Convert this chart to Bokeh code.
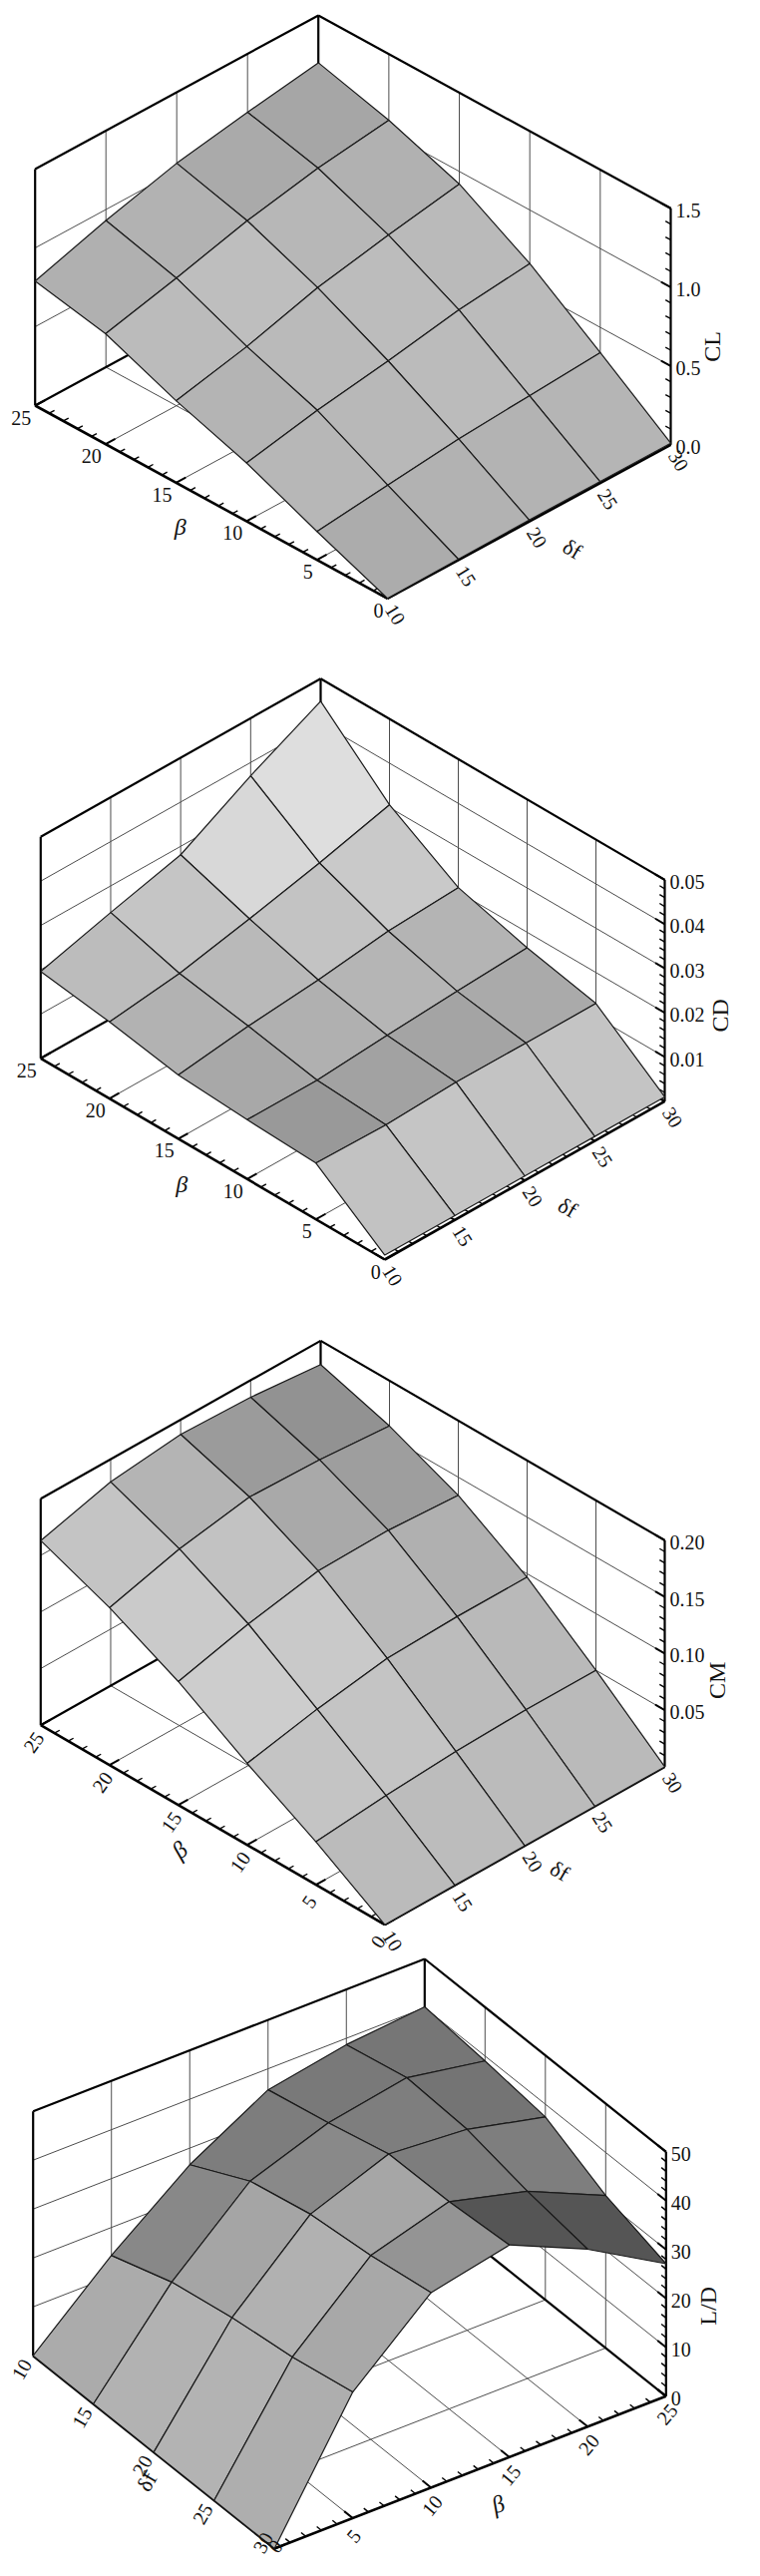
import numpy as np
from bokeh.plotting import figure
from bokeh.models import Range1d
from bokeh.embed import file_html
from bokeh.resources import INLINE
from bokeh.core.properties import value

# ---------------- data ----------------
beta = [0, 5, 10, 15, 20, 25]
delta_f = [10, 15, 20, 25, 30]

# rows: beta 0..25, columns: delta_f 10..30
CL = [
    [0.00, 0.005, 0.01, 0.01, 0.01],
    [0.18, 0.23, 0.28, 0.31, 0.34],
    [0.37, 0.46, 0.53, 0.61, 0.66],
    [0.52, 0.62, 0.75, 0.84, 0.92],
    [0.70, 0.81, 0.93, 1.02, 1.08],
    [0.79, 0.93, 1.05, 1.13, 1.20],
]
CD = [
    [0.001, 0.001, 0.001, 0.001, 0.001],
    [0.0127, 0.0124, 0.0131, 0.0130, 0.0130],
    [0.0134, 0.0134, 0.0146, 0.0156, 0.0165],
    [0.0144, 0.0165, 0.0180, 0.0201, 0.0210],
    [0.0173, 0.0193, 0.0227, 0.0264, 0.0306],
    [0.0196, 0.0240, 0.0281, 0.0370, 0.0449],
]
CM = [
    [0.000, 0.000, 0.000, 0.000, 0.000],
    [0.038, 0.044, 0.048, 0.050, 0.050],
    [0.072, 0.085, 0.095, 0.097, 0.097],
    [0.109, 0.125, 0.137, 0.138, 0.134],
    [0.139, 0.156, 0.167, 0.165, 0.160],
    [0.163, 0.180, 0.187, 0.185, 0.179],
]
LD = [
    [0.0, 0.0, 0.0, 0.0, 0.0],
    [14.3, 18.7, 21.3, 23.1, 25.8],
    [26.6, 33.1, 36.2, 37.6, 39.9],
    [35.7, 38.8, 42.3, 42.4, 43.4],
    [38.7, 41.8, 41.1, 38.3, 36.3],
    [40.2, 39.0, 37.4, 31.2, 27.1],
]

cl_ticks = [0.0, 0.5, 1.0, 1.5]
cl_tick_labels = ["0.0", "0.5", "1.0", "1.5"]
cd_ticks = [0.01, 0.02, 0.03, 0.04, 0.05]
cd_tick_labels = ["0.01", "0.02", "0.03", "0.04", "0.05"]
cm_ticks = [0.05, 0.10, 0.15, 0.20]
cm_tick_labels = ["0.05", "0.10", "0.15", "0.20"]
ld_ticks = [0, 10, 20, 30, 40, 50]
ld_tick_labels = ["0", "10", "20", "30", "40", "50"]
beta_ticks = [0, 5, 10, 15, 20, 25]
beta_tick_labels = ["0", "5", "10", "15", "20", "25"]
delta_ticks = [10, 15, 20, 25, 30]
delta_tick_labels = ["10", "15", "20", "25", "30"]

# ---------------- layout / style ----------------
FONT = "Liberation Serif"
charts = [
    dict(z=CL, zmax=1.5, zt=cl_ticks, zl=cl_tick_labels, minor=0.1, title="CL",
         front=(396.0, 607.3), left=(42.7, 414.0), right=(680.0, 453.3), height=237.0,
         swap=False, shade=(-14.5, 250.0), tdx=41, tdy=20,
         blab=("right", (-4, 12), 0.0), dlab=("center", (8, 16), -58.0),
         btit=(12.5, (-31, 25), 0.0), dtit=(21.5, (22, 39), -30.0)),
    dict(z=CD, zmax=0.05, zt=cd_ticks, zl=cd_tick_labels, minor=0.002, title="CD",
         front=(393.3, 1270.0), left=(48.3, 1068.3), right=(674.0, 1111.4), height=222.0,
         swap=False, shade=(27.8, 210.0), tdx=55, tdy=25,
         blab=("right", (-4, 12), 0.0), dlab=("center", (8, 16), -58.0),
         btit=(12.5, (-31, 25), 0.0), dtit=(21.5, (22, 39), -30.0)),
    dict(z=CM, zmax=0.20, zt=cm_ticks, zl=cm_tick_labels, minor=0.01, title="CM",
         front=(393.3, 1936.7), left=(48.3, 1736.7), right=(674.0, 1778.4), height=227.0,
         swap=False, shade=(-41.0, 283.0), tdx=52, tdy=27,
         blab=("center", (-7, 17), 55.0), dlab=("center", (8, 16), -58.0),
         btit=(12.5, (-33, 25), 40.0), dtit=(21.5, (14, 37), -30.0)),
    dict(z=LD, zmax=50.0, zt=ld_ticks, zl=ld_tick_labels, minor=2.0, title="L/D",
         front=(282.7, 2562.0), left=(40.7, 2368.7), right=(675.3, 2409.3), height=245.0,
         swap=True, shade=(-42.0, 320.0), tdx=42, tdy=32,
         blab=("center", (1, 18), 50.0), dlab=("center", (-11.5, 13.5), 60.0),
         btit=(12.5, (28, 32), 20.0), dtit=(20.5, (-13, 25), 60.0)),
]

W, HP = 746, 2566
X0, Y0 = 8, 8
p = figure(width=W, height=HP, x_range=Range1d(X0, X0 + W), y_range=Range1d(Y0 + HP, Y0),
           output_backend="svg", toolbar_location=None,
           x_axis_location=None, y_axis_location=None, min_border=0)
p.outline_line_color = None
p.grid.visible = False
p.background_fill_color = "white"


def text(xs, ys, labels, size, align="center", baseline="middle", angle=0.0, style="normal"):
    px = float(size.replace("px", ""))
    th = np.deg2rad(angle)
    xs = list(map(float, xs)); ys = list(map(float, ys))
    # keep every label fully inside the page (conservative rotated text box)
    for k, lab in enumerate(labels):
        w = 0.56 * px * len(lab); h = 1.25 * px
        ext_y = 0.5 * (w * abs(np.sin(th)) + h * abs(np.cos(th))) + 2
        ys[k] = min(max(ys[k], Y0 + ext_y), Y0 + HP - ext_y)
    p.text(x=xs, y=ys, text=list(labels), angle=float(th),
           text_font=value(FONT), text_font_size=value(size), text_align=align,
           text_baseline=baseline, text_color="#111111", text_font_style=style)


for c in charts:
    Z = np.array(c["z"], float)
    F = np.array(c["front"]); L = np.array(c["left"]); R = np.array(c["right"])
    b0, b1 = beta[0], beta[-1]
    d0, d1 = delta_f[0], delta_f[-1]
    if c["swap"]:
        O = L; ed = (F - L) / (d1 - d0); eb = (R - F) / (b1 - b0)
        fd, bd = d1, d0
    else:
        O = F; eb = (L - F) / (b1 - b0); ed = (R - F) / (d1 - d0)
        fd, bd = d0, d1
    H = c["height"]; zmax = c["zmax"]

    def P(b, d, z, O=O, eb=eb, ed=ed, H=H, zmax=zmax):
        b = np.asarray(b, float); d = np.asarray(d, float); z = np.asarray(z, float)
        x = O[0] + (b - b0) * eb[0] + (d - d0) * ed[0]
        y = O[1] + (b - b0) * eb[1] + (d - d0) * ed[1] - z / zmax * H
        return x, y

    def seg(a, e):
        x, y = P([a[0], e[0]], [a[1], e[1]], [a[2], e[2]])
        return list(x), list(y)

    # ---- view basis for headlight shading ----
    bx, by = eb; dx, dy = ed
    s2 = -(by * dy) / (bx * dx)
    se = np.sqrt(s2); ce = np.sqrt(1 - s2)
    t = abs(se * dx / dy)
    ca = np.sign(bx) / np.sqrt(1 + t * t); sa = np.sign(dx) * t / np.sqrt(1 + t * t)
    scale = np.array([bx / ca, dx / sa, H / ce / zmax])
    rx = np.array([ca, sa, 0.0]); ry = np.array([-sa * se, ca * se, -ce])
    view = np.cross(rx, ry)
    if view[2] < 0:
        view = -view

    zin = [v for v in c["zt"] if 1e-12 < v < zmax - 1e-12]

    # ---- thin grid lines on walls and floor ----
    gx, gy = [], []
    for b in beta_ticks[1:-1]:
        for a, e in [((b, d0, 0), (b, d1, 0)), ((b, bd, 0), (b, bd, zmax))]:
            x, y = seg(a, e); gx.append(x); gy.append(y)
    for d in delta_ticks[1:-1]:
        for a, e in [((b0, d, 0), (b1, d, 0)), ((b1, d, 0), (b1, d, zmax))]:
            x, y = seg(a, e); gx.append(x); gy.append(y)
    for zz in zin:
        for a, e in [((b1, d0, zz), (b1, d1, zz)), ((b0, bd, zz), (b1, bd, zz))]:
            x, y = seg(a, e); gx.append(x); gy.append(y)
    p.multi_line(gx, gy, line_color="#4d4d4d", line_width=1.0)

    # ---- bold box edges (back walls and floor) ----
    ex, ey = [], []
    edges = [((b1, d0, 0), (b1, d1, 0)), ((b0, bd, 0), (b1, bd, 0)),
             ((b1, fd, 0), (b1, fd, zmax)), ((b0, bd, 0), (b0, bd, zmax)),
             ((b1, bd, 0), (b1, bd, zmax)),
             ((b1, d0, zmax), (b1, d1, zmax)), ((b0, bd, zmax), (b1, bd, zmax))]
    for a, e in edges:
        x, y = seg(a, e); ex.append(x); ey.append(y)
    p.multi_line(ex, ey, line_color="black", line_width=2.2)
    ax_x, ax_y = [], []
    for a, e in [((b0, fd, 0), (b1, fd, 0)), ((b0, d0, 0), (b0, d1, 0))]:
        x, y = seg(a, e); ax_x.append(x); ax_y.append(y)
    p.multi_line(ax_x, ax_y, line_color="black", line_width=2.6)

    # ---- ticks ----
    def unit(v):
        v = np.asarray(v, float); return v / np.hypot(*v)
    tdir_b = unit(ed * np.sign(bd - fd))
    tdir_d = unit(eb)
    cands = [(b0, bd), (b1, fd)]
    zc = max(cands, key=lambda q: float(P(q[0], q[1], 0)[0]))
    back = np.array(P(b1, bd, 0), float); zc0 = np.array(P(zc[0], zc[1], 0), float)
    tdir_z = unit(back - zc0)
    mjx, mjy, mnx, mny = [], [], [], []

    def tick(pt, dvec, major):
        ln = 11.0 if major else 6.0
        xs_ = [pt[0], pt[0] + dvec[0] * ln]; ys_ = [pt[1], pt[1] + dvec[1] * ln]
        if major:
            mjx.append(xs_); mjy.append(ys_)
        else:
            mnx.append(xs_); mny.append(ys_)

    for b in range(b0, b1 + 1):
        tick(P(b, fd, 0), tdir_b, b in beta_ticks)
    for d in range(d0, d1 + 1):
        tick(P(b0, d, 0), tdir_d, d in delta_ticks)
    nmin = int(round(zmax / c["minor"]))
    for k in range(nmin + 1):
        zz = k * c["minor"]
        major = any(abs(zz - v) < 1e-9 for v in c["zt"])
        tick(P(zc[0], zc[1], zz), tdir_z, major)
    p.multi_line(mnx, mny, line_color="black", line_width=1.4)
    p.multi_line(mjx, mjy, line_color="black", line_width=2.0)

    # ---- shaded surface (painter's order) ----
    cells = []
    for i in range(len(beta) - 1):
        for j in range(len(delta_f) - 1):
            idx = [(i, j), (i + 1, j), (i + 1, j + 1), (i, j + 1)]
            bs = [beta[a] for a, _ in idx]; ds = [delta_f[b] for _, b in idx]
            zs = [Z[a, b] for a, b in idx]
            x, y = P(bs, ds, zs)
            ph = np.array([[bs[k] * scale[0], ds[k] * scale[1], zs[k] * scale[2]] for k in range(4)])
            n = np.cross(ph[2] - ph[0], ph[3] - ph[1])
            if n[2] < 0:
                n = -n
            n = n / np.linalg.norm(n)
            inten = float(n @ view)
            g = int(np.clip(c["shade"][0] + c["shade"][1] * inten, 85, 232))
            depth = float(ph.mean(axis=0) @ view)
            cells.append((depth, list(x), list(y), "#%02x%02x%02x" % (g, g, g)))
    cells.sort(key=lambda q: q[0])
    p.patches([q[1] for q in cells], [q[2] for q in cells], fill_color=[q[3] for q in cells],
              line_color="#1a1a1a", line_width=1.2)

    # ---- tick labels ----
    al, off, ang = c["blab"]
    x, y = P(beta_ticks, [fd] * len(beta_ticks), [0] * len(beta_ticks))
    text(x + off[0], y + off[1], beta_tick_labels, "20px", align=al, angle=ang)
    al, off, ang = c["dlab"]
    x, y = P([b0] * len(delta_ticks), delta_ticks, [0] * len(delta_ticks))
    text(x + off[0], y + off[1], delta_tick_labels, "20px", align=al, angle=ang)
    x, y = P([zc[0]] * len(c["zt"]), [zc[1]] * len(c["zt"]), c["zt"])
    text(x + 5, y + 2, c["zl"], "20px", align="left")

    # ---- axis titles ----
    at, off, ang = c["btit"]
    x, y = P([at], [fd], [0])
    text(x + off[0], y + off[1], ["β"], "24px", angle=ang, style="italic")
    at, off, ang = c["dtit"]
    x, y = P([b0], [at], [0])
    text(x + off[0], y + off[1], ["δf"], "22px", angle=ang)
    x, y = P([zc[0]], [zc[1]], [zmax / 2])
    text(x + c["tdx"], y + c["tdy"], [c["title"]], "24px", angle=90.0)

open("out.html", "w").write(file_html(p, INLINE))
